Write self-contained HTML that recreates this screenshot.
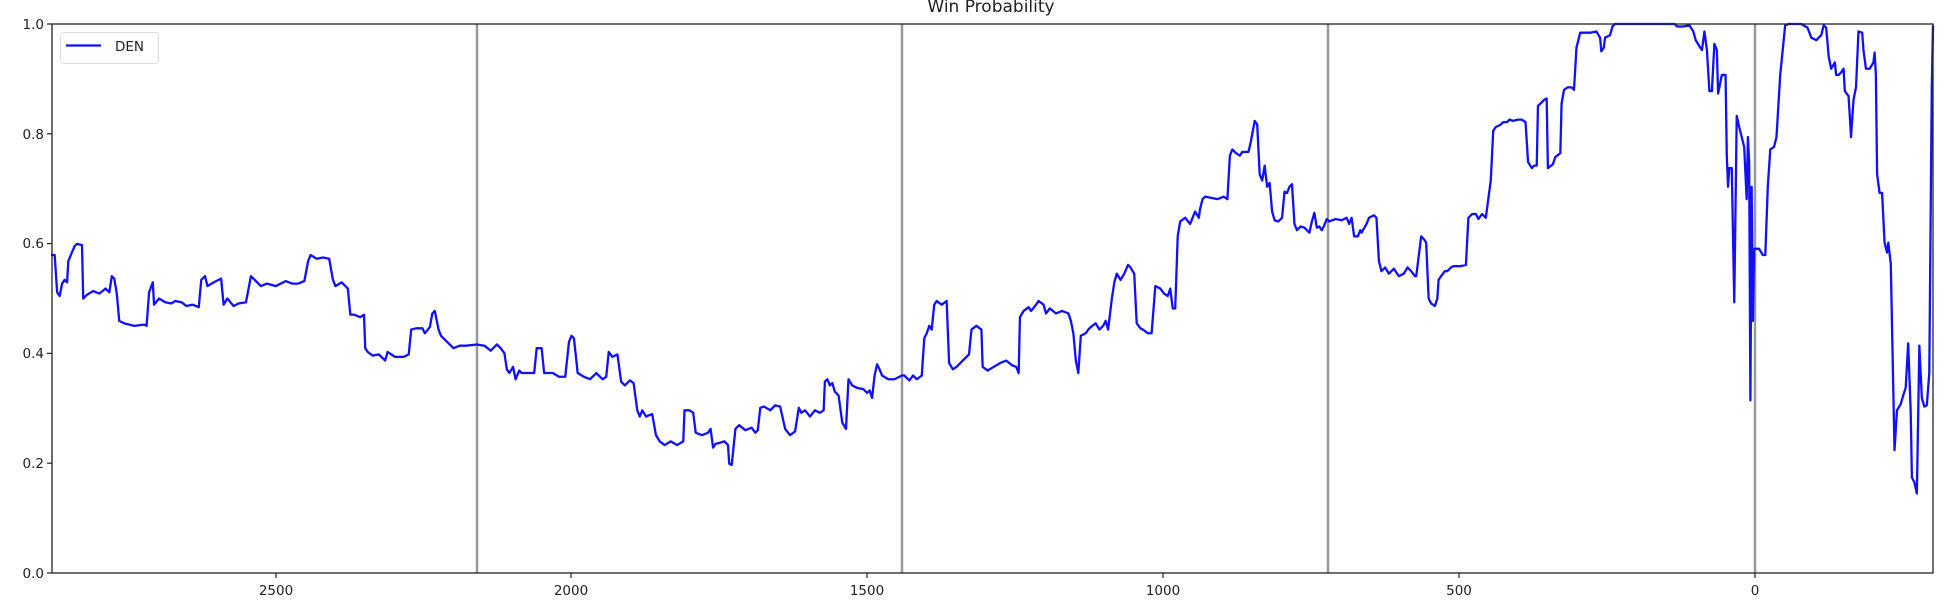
<!DOCTYPE html>
<html><head><meta charset="utf-8"><style>
html,body{margin:0;padding:0;background:#fff;}
svg{display:block;font-family:"DejaVu Sans","Liberation Sans",sans-serif;}
</style></head><body>
<svg width="1948" height="612" viewBox="0 0 1948 612" xmlns="http://www.w3.org/2000/svg">
<rect width="1948" height="612" fill="#fff"/>
<text x="991" y="12" font-size="17" text-anchor="middle" fill="#222">Win Probability</text>
<g stroke="#999" stroke-width="2.5">
<line x1="477" y1="24" x2="477" y2="573"/>
<line x1="902" y1="24" x2="902" y2="573"/>
<line x1="1328" y1="24" x2="1328" y2="573"/>
<line x1="1755" y1="24" x2="1755" y2="573"/>
</g>
<g transform="matrix(1.2423 0 0 1.2421 0 0.4)">
<polyline fill="none" stroke="#1010ff" stroke-width="2.3" vector-effect="non-scaling-stroke" stroke-linejoin="round" points="41,205 44,205 46,235 48,238 50,228 52,225 54,227 55,210 57,205 60,198 62,196 66,197 67,240 70,237 75,234 80,236 85,232 88,235 90,222 92,224 94,236 96,258 100,260 108,262 116,261 118,262 120,235 123,227 124,245 128,240 133,243 138,244 141,242 146,243 150,246 155,245 160,247 162,225 165,222 167,230 172,227 178,224 180,245 183,240 188,246 192,244 198,243 202,222 205,225 210,230 215,228 222,230 230,226 235,228 240,228 245,226 248,210 250,205 255,208 260,207 265,208 268,225 270,230 275,227 278,230 280,232 282,253 285,253 290,255 293,253 294,280 296,283 300,286 305,285 310,290 312,283 318,287 325,287 329,285 331,265 335,264 340,264 342,268 346,263 348,252 350,250 353,265 355,270 360,275 365,280 370,278 375,278 384,277 390,278 395,282 400,277 403,280 406,284 408,297 410,300 413,295 415,305 418,298 420,300 425,300 430,300 432,280 436,280 438,300 440,300 445,300 450,303 455,303 458,275 460,270 462,272 465,300 470,303 475,305 480,300 485,305 488,303 490,283 493,287 497,285 500,307 503,310 507,306 510,308 513,330 515,335 517,330 520,335 525,333 528,350 531,355 535,358 540,355 545,358 550,355 551,330 555,330 558,332 560,348 565,350 570,348 572,345 574,360 576,357 580,356 583,355 586,358 587,373 589,374 592,345 595,342 600,346 605,344 608,348 610,346 612,328 615,327 620,330 624,326 628,327 632,345 636,350 640,347 643,328 645,332 648,330 652,335 656,330 660,332 663,330 664,307 666,305 668,310 670,308 672,315 675,318 678,340 681,345 683,305 686,310 690,312 695,313 698,316 700,314 702,320 704,302 706,293 708,297 710,302 715,305 720,305 724,303 726,302 728,302 732,306 735,302 738,305 742,302 744,272 746,268 748,262 750,265 752,245 754,242 758,245 762,242 764,292 767,297 770,295 775,290 780,285 782,265 786,262 790,265 791,295 795,298 800,295 805,292 810,290 815,294 818,295 820,300 821,255 824,250 828,247 830,250 834,245 836,242 840,245 842,252 845,248 850,252 855,250 860,252 862,258 864,268 866,290 868,300 870,270 874,268 876,265 878,263 882,260 885,265 888,262 890,258 892,265 895,240 897,227 899,220 902,225 905,220 908,213 910,215 913,220 915,260 918,264 920,265 924,268 927,268 930,230 934,232 937,236 940,238 942,232 944,248 946,248 948,190 950,178 954,175 958,180 962,170 965,175 966,168 968,160 970,158 975,159 980,160 985,158 988,160 990,125 992,120 995,123 998,125 1000,122 1005,122 1007,113 1010,97 1012,100 1014,140 1016,145 1018,133 1020,150 1022,147 1024,170 1026,177 1029,178 1032,175 1034,154 1036,155 1038,150 1040,148 1042,180 1044,185 1047,182 1050,183 1052,185 1054,187 1056,178 1058,171 1060,183 1062,182 1064,185 1066,181 1068,176 1070,178 1075,176 1080,177 1084,175 1086,180 1088,175 1090,190 1093,190 1095,185 1096,187 1100,180 1102,175 1106,173 1108,175 1110,210 1112,218 1115,215 1118,220 1122,216 1126,222 1130,220 1133,215 1136,218 1139,222 1140,222 1144,190 1146,192 1148,195 1150,240 1152,244 1155,246 1157,240 1158,225 1160,222 1163,218 1165,218 1168,215 1170,214 1175,214 1180,213 1182,175 1185,172 1188,172 1190,176 1193,172 1196,175 1198,160 1200,145 1202,105 1204,102 1208,100 1210,98 1213,98 1215,96 1218,97 1222,96 1225,96 1228,98 1230,130 1233,135 1235,133 1237,133 1238,85 1241,82 1243,80 1245,79 1246,135 1250,132 1252,126 1256,123 1257,83 1259,72 1262,70 1265,70 1267,72 1269,38 1272,26 1276,26 1280,26 1285,25 1288,30 1289,41 1291,38 1292,30 1296,28 1298,21 1300,19 1310,19 1320,19 1340,19 1348,19 1350,21 1355,21 1360,20 1363,25 1365,32 1368,37 1370,40 1372,25 1374,40 1376,73 1378,73 1380,35 1382,40 1383,75 1386,60 1389,60 1390,125 1391,150 1392,135 1394,135 1396,243 1398,93 1400,102 1402,110 1404,118 1406,160 1407,110 1408,130 1409,322 1410,150 1411,258 1412,200 1413,200 1416,200 1419,205 1421,205 1423,150 1425,120 1428,118 1430,110 1433,60 1435,40 1437,20 1440,19 1450,19 1455,22 1458,30 1462,32 1466,28 1468,20 1470,22 1472,45 1474,55 1477,50 1478,60 1480,60 1482,58 1484,55 1485,73 1488,77 1489,93 1490,110 1492,80 1494,70 1496,25 1499,26 1500,40 1502,55 1505,55 1508,50 1509,42 1510,60 1511,140 1513,155 1515,155 1517,195 1519,203 1520,195 1522,212 1525,362 1527,330 1530,325 1532,318 1534,312 1536,276 1538,330 1539,384 1541,388 1543,397 1545,278 1547,320 1549,327 1551,326 1553,300 1555,70 1556,20"/>
</g>
<rect x="52" y="24" width="1881" height="549" fill="none" stroke="#222" stroke-width="1.3"/>
<g stroke="#222" stroke-width="1.2">
<line x1="47" y1="573" x2="52" y2="573"/><line x1="47" y1="463.2" x2="52" y2="463.2"/><line x1="47" y1="353.4" x2="52" y2="353.4"/><line x1="47" y1="243.6" x2="52" y2="243.6"/><line x1="47" y1="133.8" x2="52" y2="133.8"/><line x1="47" y1="24" x2="52" y2="24"/>
<line x1="276" y1="573" x2="276" y2="578"/><line x1="571" y1="573" x2="571" y2="578"/><line x1="867" y1="573" x2="867" y2="578"/><line x1="1163" y1="573" x2="1163" y2="578"/><line x1="1459" y1="573" x2="1459" y2="578"/><line x1="1755" y1="573" x2="1755" y2="578"/>
</g>
<g font-size="13.5" fill="#222" text-anchor="end">
<text x="44" y="578">0.0</text><text x="44" y="468">0.2</text><text x="44" y="358">0.4</text><text x="44" y="248">0.6</text><text x="44" y="139">0.8</text><text x="44" y="29">1.0</text>
</g>
<g font-size="13.5" fill="#222" text-anchor="middle">
<text x="276" y="595">2500</text><text x="571" y="595">2000</text><text x="867" y="595">1500</text><text x="1163" y="595">1000</text><text x="1459" y="595">500</text><text x="1755" y="595">0</text>
</g>
<rect x="60.5" y="32.5" width="98" height="31" rx="3" fill="#fff" fill-opacity="0.8" stroke="#ddd"/>
<line x1="66" y1="45.5" x2="101" y2="45.5" stroke="#1010ff" stroke-width="2.3"/>
<text x="115" y="51" font-size="13.5" fill="#222">DEN</text>
</svg>
</body></html>
